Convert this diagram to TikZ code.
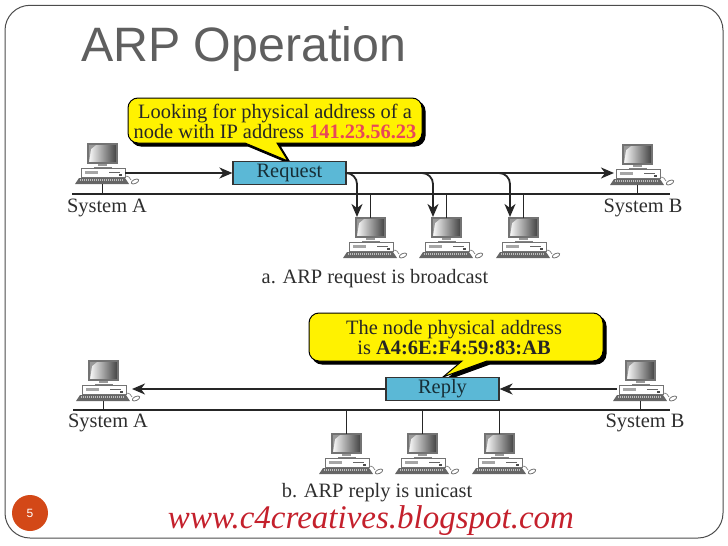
\documentclass[tikz,border=0pt]{standalone}
\usepackage{fontspec}
\setmainfont{Liberation Serif}
\newfontfamily\slidefont{Liberation Sans}
\usetikzlibrary{arrows.meta}
\usetikzlibrary{positioning}
\definecolor{titlegray}{HTML}{5F5F5F}
\definecolor{boxblue}{HTML}{5BB8D6}
\definecolor{numred}{HTML}{D34817}
\definecolor{ipred}{HTML}{E8475A}
\definecolor{linkred}{HTML}{C4202C}
\definecolor{figtext}{HTML}{2E2E2E}
\tikzset{>={Stealth[length=13pt,width=11pt,inset=4pt]}}
\tikzset{
    busline/.style={line width=1.8pt, black!85},
    wire/.style={line width=1.8pt, black!85},
    msgbox/.style={draw=black!80, fill=boxblue, line width=1.2pt, minimum width=113pt,
        minimum height=23pt, inner sep=0pt, text=black!75!boxblue, font=\fontsize{20.4}{22}\selectfont},
    bubbletext/.style={align=center, inner sep=0pt, text=black!85, font=\fontsize{20.4}{19.5}\selectfont},
    syslabel/.style={text=figtext, inner sep=0pt, font=\fontsize{20.4}{22}\selectfont},
    caption/.style={text=figtext, inner sep=0pt, font=\fontsize{20.4}{22}\selectfont},
    computer/.pic={
        % monitor
        \draw [black!55, line width=1.3pt, left color=white, right color=black!75]
            (0,0) rectangle (29,19);
        \fill [black!40] (1,1) -- (8,1) -- (3,5) -- (1,18) -- cycle;
        \fill [black!40] (10,19.5) rectangle (19,22);
        \draw [black!50, line width=0.8pt] (6,23) -- (24,23);
        % case
        \draw [black!55, line width=0.9pt, fill=white] (-7,24) rectangle (37,33);
        \fill [black!35] (-3,27) rectangle (10,30);
        \draw [black!60, line width=0.8pt] (21,28) -- (32,28);
        \fill [black!70] (31,30) rectangle (34,32);
        % keyboard
        \fill [black!60] (-13,40) -- (-9,34) -- (37,34) -- (41,40) -- cycle;
        \draw [black!25, line width=2.5pt, dash pattern=on 1pt off 1pt] (-8,36) -- (36,36);
        % mouse
        \draw [black!50, line width=0.7pt] (37,32) .. controls (41,32) and (42,34) .. (43,36);
        \draw [black!55, line width=0.8pt, fill=white, rotate around={25:(47,37.5)}]
            (47,37.5) ellipse (4 and 2);
        \coordinate (-base) at (14.5,40);
        \coordinate (-top) at (14.5,0);
        \coordinate (-right) at (37,28);
        \coordinate (-left) at (-9,28);
        \coordinate (-tip) at (1,-1);
    }
}

\begin{document}
\begin{tikzpicture}[x=1pt, y=-1pt]
    \useasboundingbox (0,0) rectangle (728,546);
    % slide frame
    \draw [black!70, line width=1pt, rounded corners=25pt] (5,5.3) rectangle (723,538);
    \node [anchor=base west, inner sep=0pt, text=titlegray, font=\slidefont\fontsize{48.3}{54}\selectfont]
        (slideTitle) at (81,61) {ARP Operation};
    \node [circle, fill=numred, minimum size=36pt, inner sep=0pt, text=white,
        font=\slidefont\fontsize{12}{14}\selectfont] (slideNum) at (30,513) {5};

    % a. request
    \coordinate (busAl) at (72,194);
    \coordinate (busAr) at (670,194);
    \draw [busline] (busAl) -- (busAr);
    \pic (pcA) at (88,144) {computer};
    \pic (pcB) at (623,145) {computer};
    \pic (pcC) at (356,218) {computer};
    \pic (pcD) at (432,218) {computer};
    \pic (pcE) at (509,218) {computer};
    \draw [wire] (pcA-base) -- (pcA-base |- busAl);
    \draw [wire] (pcB-base) -- (pcB-base |- busAl);
    \draw [wire] (pcC-top) -- (pcC-top |- busAl);
    \draw [wire] (pcD-top) -- (pcD-top |- busAl);
    \draw [wire] (pcE-top) -- (pcE-top |- busAl);

    \foreach \dx/\fillcol in {3/black, 0/yellow} {
        \draw [black, line width=1pt, fill=\fillcol, xshift=\dx pt, yshift=-\dx pt, rounded corners=10pt]
            (128,98) -- (422,98) -- (422,143) [rounded corners=0pt] -- (277,143) -- (288,161)
            -- (245,143) [rounded corners=10pt] -- (128,143) -- cycle;
    }
    \node [bubbletext] (lookText) at (275,121.5) {Looking for physical address of a\\
        node with IP address \textcolor{ipred}{\textbf{141.23.56.23}}};

    \node [msgbox] (reqBox) at (289.5,173) {Request};
    \draw [wire, ->] (pcA-right |- reqBox) -- (reqBox.west);
    \draw [wire, ->] (reqBox.east) -- (pcB-left |- reqBox);
    \foreach \pc in {pcC, pcD, pcE} {
        \draw [wire, ->, rounded corners=11pt] ([xshift=-12pt]\pc-tip |- reqBox) -| (\pc-tip);
    }

    \node [syslabel] (labA) at (107,207.5) {System A};
    \node [syslabel] (labB) at (643,207.5) {System B};
    \node [caption] (capA) at (375,279) {a. ARP request is broadcast};

    % b. reply
    \coordinate (busBl) at (73,410);
    \coordinate (busBr) at (670,410);
    \draw [busline] (busBl) -- (busBr);
    \pic (qcA) at (89,361) {computer};
    \pic (qcB) at (626,361) {computer};
    \pic (qcC) at (332,434) {computer};
    \pic (qcD) at (408,434) {computer};
    \pic (qcE) at (485,434) {computer};
    \draw [wire] (qcA-base) -- (qcA-base |- busBl);
    \draw [wire] (qcB-base) -- (qcB-base |- busBl);
    \draw [wire] (qcC-top) -- (qcC-top |- busBl);
    \draw [wire] (qcD-top) -- (qcD-top |- busBl);
    \draw [wire] (qcE-top) -- (qcE-top |- busBl);

    \foreach \dx/\fillcol in {3/black, 0/yellow} {
        \draw [black, line width=1pt, fill=\fillcol, xshift=\dx pt, yshift=-\dx pt, rounded corners=10pt]
            (309,313) -- (603,313) -- (603,361) [rounded corners=0pt] -- (487,361) -- (443,377)
            -- (462,361) [rounded corners=10pt] -- (309,361) -- cycle;
    }
    \node [bubbletext] (physText) at (454,337.5) {The node physical address\\
        is \textbf{A4:6E:F4:59:83:AB}};

    \node [msgbox] (repBox) at (442.5,389) {Reply};
    \draw [wire, ->] (repBox.west) -- ([xshift=6pt]qcA-right |- repBox);
    \draw [wire, ->] (qcB-left |- repBox) -- (repBox.east);

    \node [syslabel] (labC) at (108,423) {System A};
    \node [syslabel] (labD) at (645,423) {System B};
    \node [caption] (capB) at (377,492.5) {b. ARP reply is unicast};

    \node [text=linkred, inner sep=0pt, font=\itshape\fontsize{33}{36}\selectfont]
        (blogLink) at (371,520.5) {www.c4creatives.blogspot.com};
\end{tikzpicture}
\end{document}
